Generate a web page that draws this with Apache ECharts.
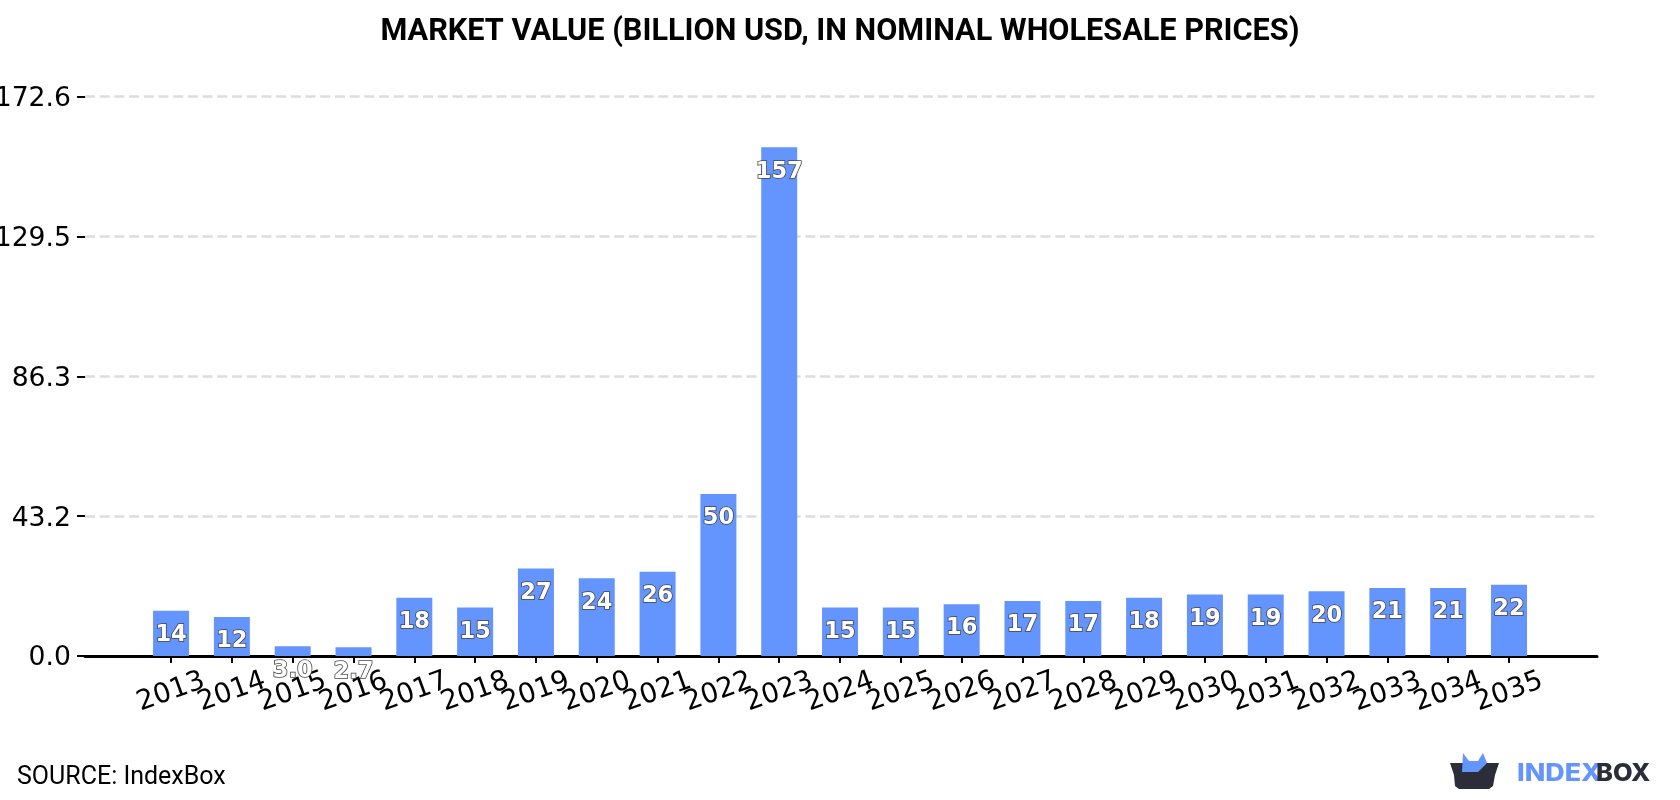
<!DOCTYPE html>
<html>
<head>
<meta charset="utf-8">
<style>html,body{margin:0;padding:0;background:#fff}#chart{width:1680px;height:800px}</style>
<script src="https://cdn.jsdelivr.net/npm/echarts@6/dist/echarts.min.js"></script>
</head>
<body>
<div id="chart"></div>
<script>
const years = [2013,2014,2015,2016,2017,2018,2019,2020,2021,2022,2023,2024,2025,2026,2027,2028,2029,2030,2031,2032,2033,2034,2035];
const marketValues = [14,12,3.0,2.7,18,15,27,24,26,50,157,15,15,16,17,17,18,19,19,20,21,21,22];
const yTickValues = [0,43.15,86.3,129.45,172.6];
const yTickLabels = ['0.0','43.2','86.3','129.5','172.6'];
const titleText = 'MARKET VALUE (BILLION USD, IN NOMINAL WHOLESALE PRICES)';
const sourceText = 'SOURCE: IndexBox';

const BLUE = '#6495ff';
const DARK = '#2b2d38';
const X_MIN = 2011.585;
const X_MAX = 2036.447;
const chart = echarts.init(document.getElementById('chart'), null, {renderer: 'canvas'});

chart.setOption({
  animation: false,
  backgroundColor: '#fff',
  grid: {left: 85, right: 83, top: 96.7, bottom: 144, outerBoundsMode: 'none'},
  xAxis: {
    type: 'value',
    min: X_MIN,
    max: X_MAX,
    splitLine: {show: false},
    axisLine: {show: true, onZero: false, lineStyle: {color: '#000', width: 3}},
    axisTick: {show: true, length: 7, customValues: years, lineStyle: {color: '#000', width: 2}},
    axisLabel: {
      // Blank labels at both axis ends keep the crowded year labels all visible
      customValues: [X_MIN, ...years, X_MAX],
      formatter: v => years.includes(v) ? String(v) : '',
      rotate: 20,
      align: 'center',
      verticalAlign: 'middle',
      margin: 36,
      hideOverlap: false,
      fontFamily: 'DejaVu Sans',
      fontSize: 27.5,
      color: '#000'
    }
  },
  yAxis: {
    type: 'value',
    min: 0,
    max: 172.6,
    axisLine: {show: false},
    axisTick: {show: true, length: 8, customValues: yTickValues, lineStyle: {color: '#000', width: 2}},
    axisLabel: {
      customValues: yTickValues,
      formatter: v => yTickLabels[yTickValues.indexOf(v)],
      margin: 14,
      // A short line box anchored at its top sets the digits just below each tick
      verticalAlign: 'top',
      lineHeight: 5,
      fontFamily: 'DejaVu Sans',
      fontSize: 26.67,
      color: '#000'
    },
    splitLine: {
      show: true,
      customValues: yTickValues,
      lineStyle: {color: '#dddddd', width: 2.5, type: [10, 4.7]}
    }
  },
  series: [{
    type: 'bar',
    data: years.map((y, i) => [y, marketValues[i]]),
    barWidth: 36,
    itemStyle: {color: BLUE},
    z: 3,
    label: {
      show: true,
      position: 'insideTop',
      distance: 13,
      formatter: p => p.value[1] < 10 ? p.value[1].toFixed(1) : String(p.value[1]),
      fontFamily: 'DejaVu Sans',
      fontWeight: 'bold',
      fontSize: 22.5,
      color: '#fff',
      textBorderColor: '#444',
      textBorderWidth: 1.6
    }
  }],
  graphic: [
    {type: 'text', x: 840, y: 32, style: {text: titleText, font: 'bold 30.67px Roboto', fill: '#000', align: 'center', verticalAlign: 'middle'}},
    {type: 'text', x: 17, y: 778, style: {text: sourceText, font: '25px Roboto', fill: '#000', align: 'left', verticalAlign: 'middle'}},
    {type: 'polygon', shape: {points: [[1450,763],[1499,763],[1495,775],[1493,786],[1489,789],[1459,789],[1455,786],[1454,775]]}, style: {fill: DARK}},
    {type: 'polygon', shape: {points: [[1462,772],[1463,753],[1469,761],[1478,761],[1483,753],[1487,763],[1478,772]]}, style: {fill: BLUE}},
    {type: 'text', x: 1517, y: 774, scaleX: 1.12, style: {text: 'INDEX', font: '800 24px Inter', fill: BLUE, align: 'left', verticalAlign: 'middle'}},
    {type: 'text', x: 1596, y: 774, scaleX: 1.06, style: {text: 'BOX', font: '800 24px Inter', fill: DARK, align: 'left', verticalAlign: 'middle'}}
  ]
});
</script>
</body>
</html>
